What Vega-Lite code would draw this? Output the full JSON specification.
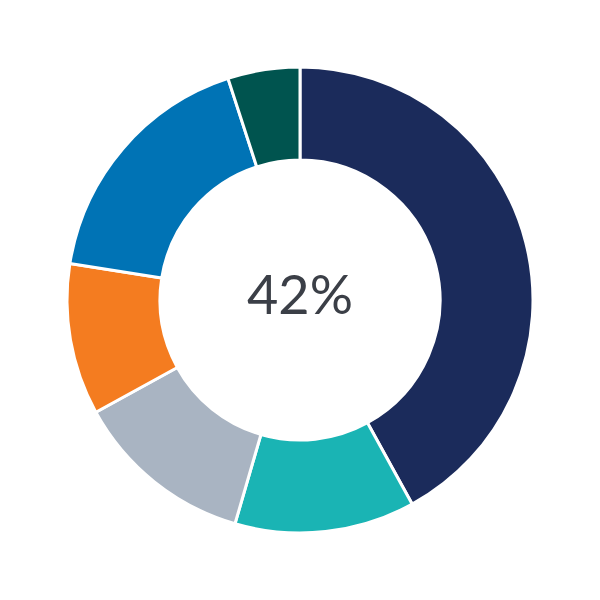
{
  "$schema": "https://vega.github.io/schema/vega-lite/v6.json",
  "width": 600,
  "height": 600,
  "padding": 0,
  "autosize": {"type": "fit", "contains": "padding"},
  "background": "white",
  "config": {"view": {"stroke": null}},
  "data": {
    "values": [
      {"category": "A", "value": 42, "order": 1},
      {"category": "B", "value": 12.5, "order": 2},
      {"category": "C", "value": 12.5, "order": 3},
      {"category": "D", "value": 10.5, "order": 4},
      {"category": "E", "value": 17.5, "order": 5},
      {"category": "F", "value": 5, "order": 6}
    ]
  },
  "layer": [
    {
      "mark": {"type": "arc", "outerRadius": 233, "innerRadius": 140, "stroke": "white", "strokeWidth": 3},
      "encoding": {
        "theta": {"field": "value", "type": "quantitative", "stack": true},
        "order": {"field": "order", "type": "quantitative"},
        "color": {
          "field": "category",
          "type": "nominal",
          "scale": {
            "domain": ["A", "B", "C", "D", "E", "F"],
            "range": ["#1b2b5b", "#1ab4b4", "#a9b4c2", "#f47c20", "#0073b5", "#00544f"]
          },
          "legend": null
        }
      }
    },
    {
      "data": {"values": [{"label": "42%"}]},
      "mark": {"type": "text", "fontSize": 54, "font": "Lato", "fontWeight": 400, "color": "#3b3f47", "align": "center", "baseline": "middle", "dy": -2},
      "encoding": {"text": {"field": "label"}}
    }
  ]
}
